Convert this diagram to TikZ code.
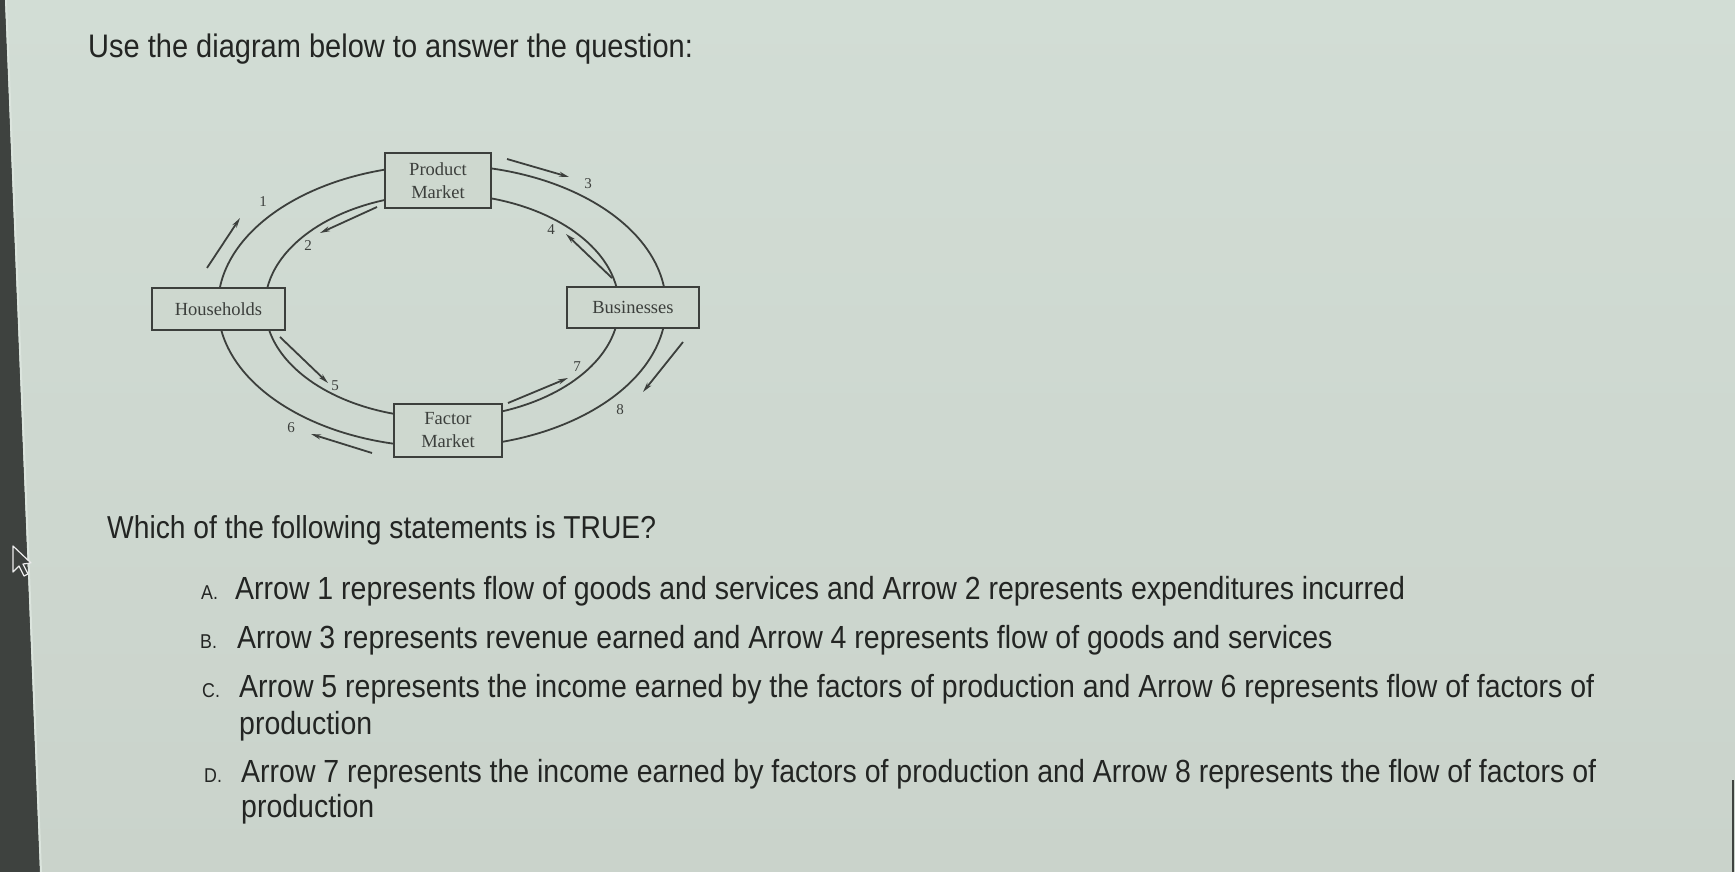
\documentclass[tikz,border=0pt]{standalone}
\usepackage{fontspec}
\setmainfont{Liberation Serif}
\newfontfamily\qfont[FakeStretch=0.89]{Liberation Sans}
\usetikzlibrary{arrows.meta}
\definecolor{bgtop}{HTML}{D2DDD5}
\definecolor{bgbot}{HTML}{CAD3CB}
\definecolor{bgc}{HTML}{CED8CF}
\definecolor{ink}{HTML}{3C3F3C}
\definecolor{qink}{HTML}{232523}
\definecolor{strip}{HTML}{3E423F}
\tikzset{
  mkt/.style={draw=ink, line width=1.8pt, fill=bgc, rectangle, inner sep=0pt,
    align=center, text=ink, font=\fontsize{18.5}{23}\selectfont},
  ring/.style={draw=ink, line width=1.8pt},
  flow/.style={draw=ink, line width=1.8pt, -{Stealth[length=10pt,width=5pt]}},
  num/.style={text=ink, font=\fontsize{15}{15}\selectfont, inner sep=0pt},
  qline/.style={anchor=base west, inner sep=0pt, text=qink, font=\qfont\fontsize{32}{36}\selectfont},
  qlab/.style={anchor=base west, inner sep=0pt, text=qink, font=\qfont\fontsize{20}{22}\selectfont},
}
\begin{document}
\begin{tikzpicture}[x=1pt,y=-1pt]
\useasboundingbox (0,0) rectangle (1735,872);
\shade[top color=bgtop, bottom color=bgbot] (0,0) rectangle (1735,872);
\fill[strip] (0,0) -- (5,0) -- (40,872) -- (0,872) -- cycle;
\draw[line width=2pt, color=bgtop!80!white] (6,0) -- (41,872);
\draw[line width=1.5pt, strip] (1733,780) -- (1733,872);
% cursor
\draw[fill=strip, draw=white!85!gray, line width=1.2pt, line join=round]
  (13,546) -- (13,572) -- (19,566) -- (24,576) -- (28,574) -- (23,564) -- (31,563) -- cycle;

% title
\node[qline, font=\qfont\fontsize{32.6}{36}\selectfont] (title) at (88,58) {Use the diagram below to answer the question:};

% ring
\draw[ring] (442,306) ellipse [x radius=224pt, y radius=141pt];
\draw[ring] (442,306) ellipse [x radius=177pt, y radius=112pt];

% boxes
\node[mkt, minimum width=106pt, minimum height=55pt] (pm) at (438,180.5) {Product\\Market};
\node[mkt, minimum width=133pt, minimum height=42pt] (hh) at (218.5,309) {Households};
\node[mkt, minimum width=132pt, minimum height=41pt] (bus) at (633,307.5) {Businesses};
\node[mkt, minimum width=108pt, minimum height=53pt] (fm) at (448,430.5) {Factor\\Market};

% arrows
\coordinate (a1s) at (207,268); \coordinate (a1e) at (240,218);
\coordinate (a2s) at (377,207); \coordinate (a2e) at (320,233);
\coordinate (a3s) at (507,159); \coordinate (a3e) at (569,177);
\coordinate (a4s) at (612,278); \coordinate (a4e) at (566,234);
\coordinate (a5s) at (280,337); \coordinate (a5e) at (328,383);
\coordinate (a6s) at (372,453); \coordinate (a6e) at (311,434);
\coordinate (a7s) at (508,403); \coordinate (a7e) at (568,378);
\coordinate (a8s) at (683,342); \coordinate (a8e) at (643,392);
\draw[flow] (a1s) -- (a1e);
\draw[flow] (a2s) -- (a2e);
\draw[flow] (a3s) -- (a3e);
\draw[flow] (a4s) -- (a4e);
\draw[flow] (a5s) -- (a5e);
\draw[flow] (a6s) -- (a6e);
\draw[flow] (a7s) -- (a7e);
\draw[flow] (a8s) -- (a8e);

% numbers
\node[num] (n1) at (263,202) {1};
\node[num] (n2) at (308,246) {2};
\node[num] (n3) at (588,184) {3};
\node[num] (n4) at (551,230) {4};
\node[num] (n5) at (335,386) {5};
\node[num] (n6) at (291,428) {6};
\node[num] (n7) at (577,367) {7};
\node[num] (n8) at (620,410) {8};

% question
\node[qline, font=\qfont\fontsize{31.7}{36}\selectfont] (q) at (107,538) {Which of the following statements is TRUE?};
\node[qlab] (la) at (201,599) {A.};
\node[qline] (ta) at (235,599) {Arrow 1 represents flow of goods and services and Arrow 2 represents expenditures incurred};
\node[qlab] (lb) at (200,648) {B.};
\node[qline] (tb) at (237,648) {Arrow 3 represents revenue earned and Arrow 4 represents flow of goods and services};
\node[qlab] (lc) at (202,697) {C.};
\node[qline] (tc) at (239,697) {Arrow 5 represents the income earned by the factors of production and Arrow 6 represents flow of factors of};
\node[qline] (tc2) at (239,734) {production};
\node[qlab] (ld) at (204,782) {D.};
\node[qline] (td) at (241,782) {Arrow 7 represents the income earned by factors of production and Arrow 8 represents the flow of factors of};
\node[qline] (td2) at (241,817) {production};
\end{tikzpicture}
\end{document}
